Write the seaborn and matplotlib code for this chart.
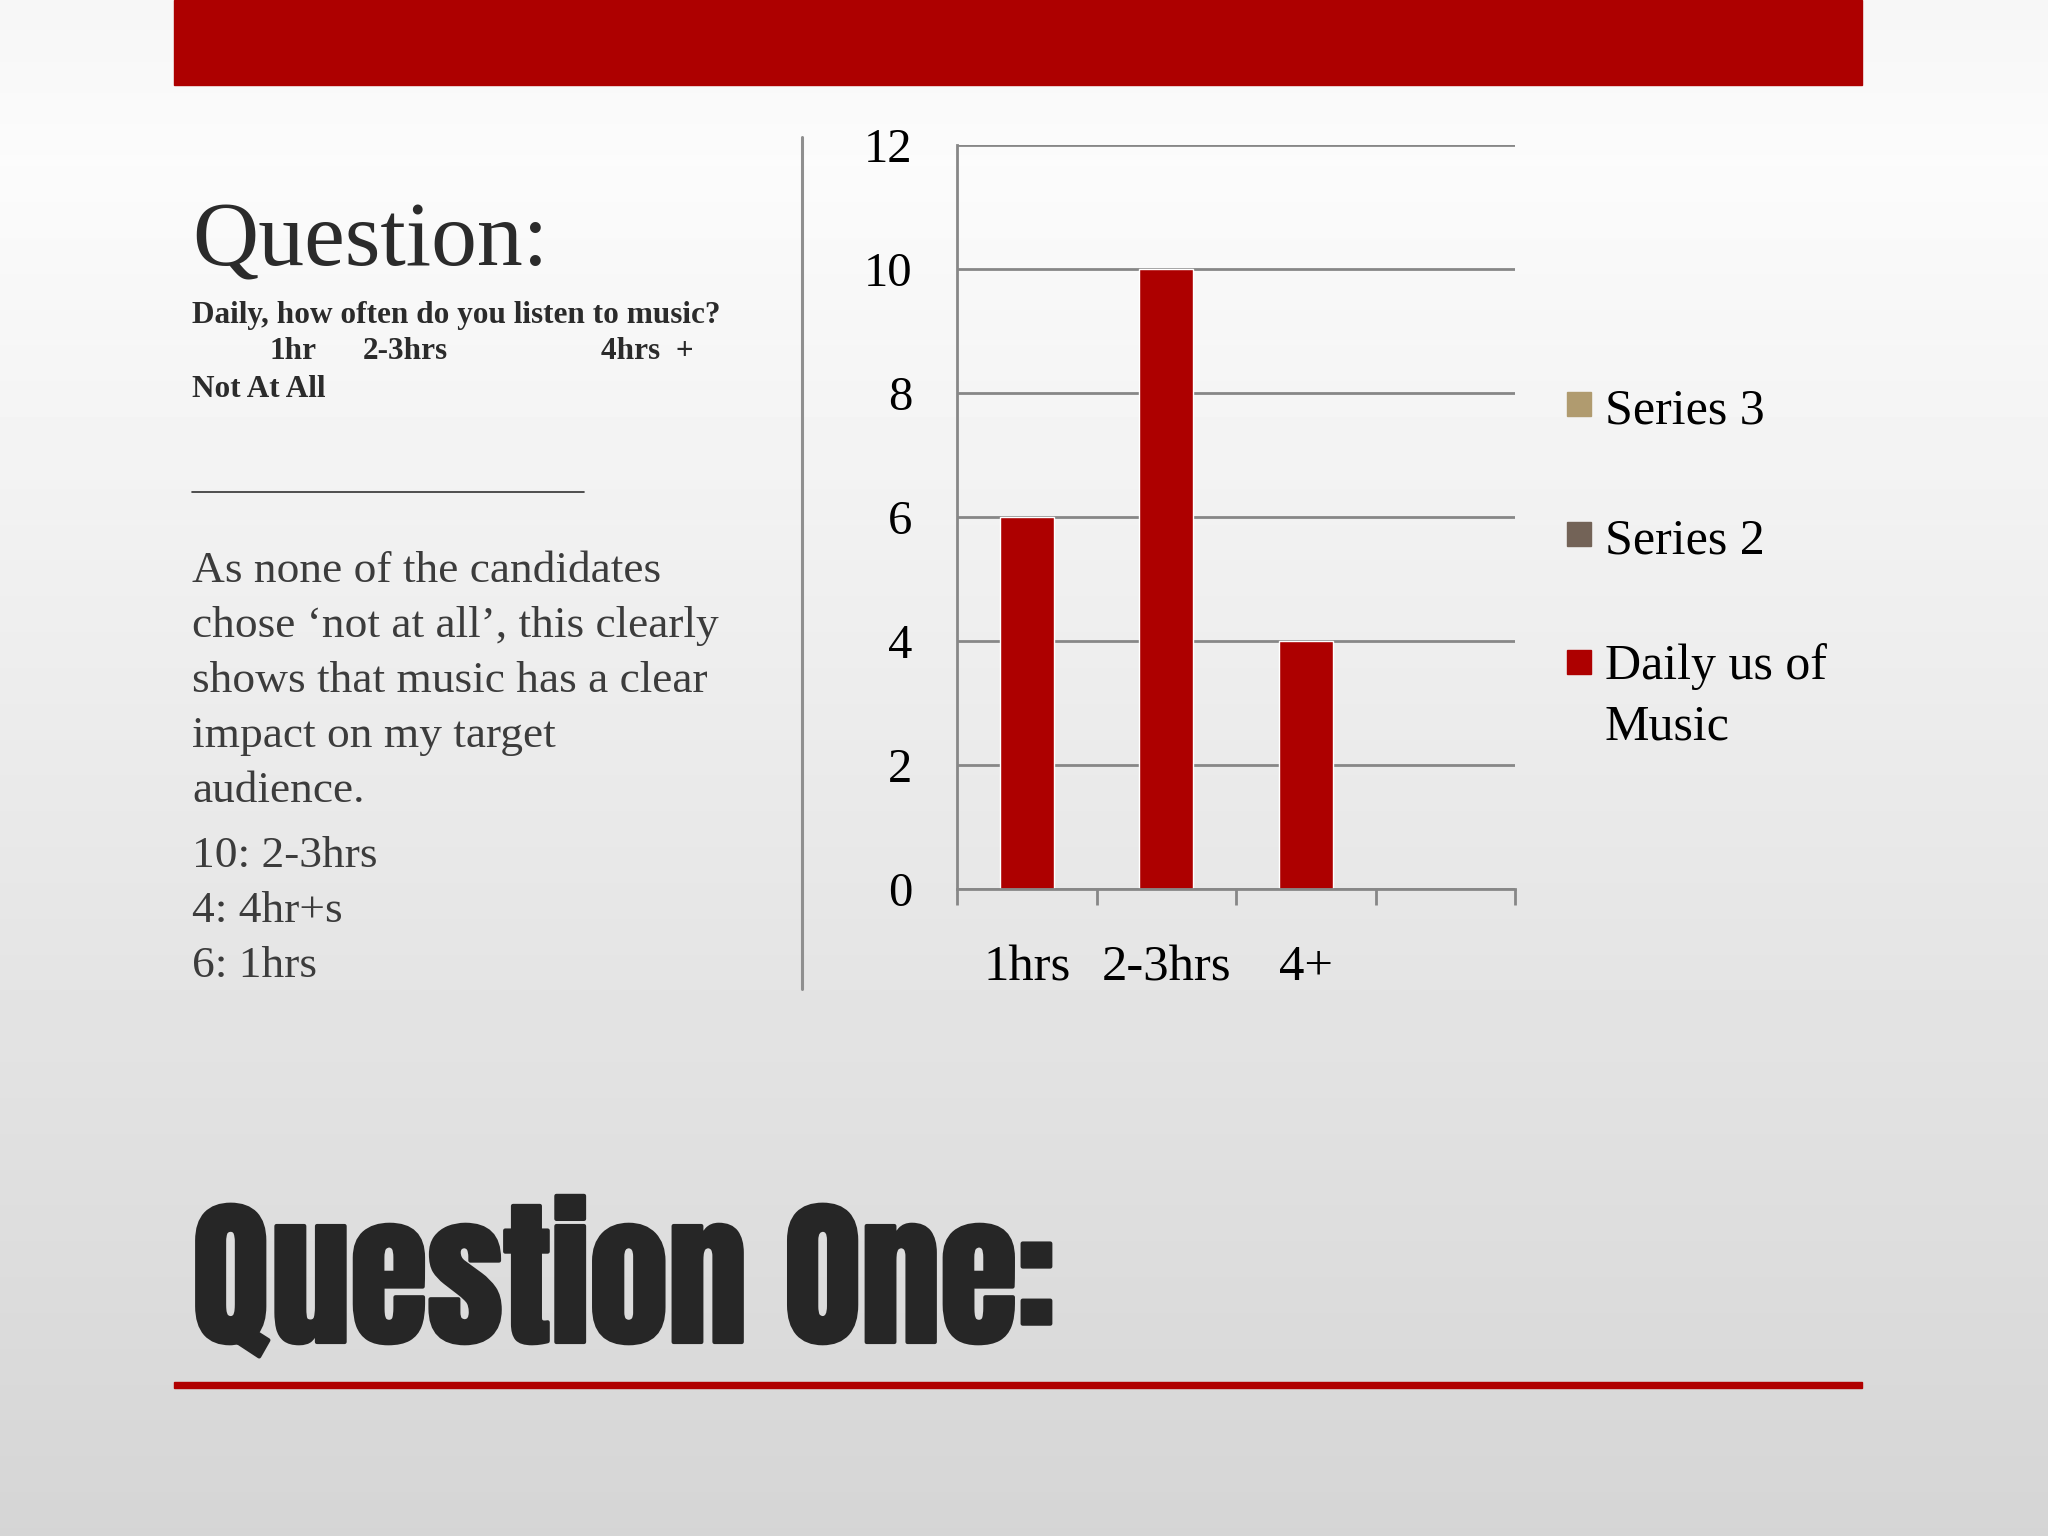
import numpy as np
import pandas as pd
import matplotlib.pyplot as plt
from matplotlib.patches import Rectangle
from matplotlib import patheffects
import seaborn as sns

# data
categories = ["1hrs", "2-3hrs", "4+"]
daily_use = [6, 10, 4]
slot_order = ["1hrs", "2-3hrs", "4+", " "]
y_ticks = [0, 2, 4, 6, 8, 10, 12]
legend_labels = ["Series 3", "Series 2", "Daily us of\nMusic"]
legend_colors = ["#B09B6F", "#736357", "#AD0000"]

RED = "#AD0000"
GRID = "#878787"
W, H = 2048, 1536

sns.set_theme(style="white")
plt.rcParams["font.family"] = ["Liberation Serif", "DejaVu Serif"]

fig = plt.figure(figsize=(W / 100, H / 100), dpi=100)


def fx(x):
    return x / W


def fy(y):
    return 1 - y / H


# background gradient, white at the top fading to light grey
bg = fig.add_axes([0, 0, 1, 1], zorder=-10)
g = np.interp(np.arange(H), [0, 160, H], [0.965, 0.985, 0.835])
bg.imshow(np.repeat(g[:, None], 4, axis=1), cmap="gray", vmin=0, vmax=1,
          aspect="auto", extent=[0, 1, 0, 1])
bg.set_axis_off()

# red header bar and bottom rule
fig.add_artist(Rectangle((fx(174), fy(85)), fx(1862 - 174), 85 / H,
                         color=RED, transform=fig.transFigure))
fig.add_artist(Rectangle((fx(174), fy(1388)), fx(1862 - 174), 6 / H,
                         color="#B00000", transform=fig.transFigure))

# left text column
fig.text(fx(192), fy(265), "Question:", fontsize=66, color="#2b2b2b")
fig.text(fx(192), fy(323), "Daily, how often do you listen to music?",
         fontsize=22.5, weight="bold", color="#2b2b2b")
fig.text(fx(270), fy(359), "1hr", fontsize=22.5, weight="bold", color="#2b2b2b")
fig.text(fx(363), fy(359), "2-3hrs", fontsize=22.5, weight="bold", color="#2b2b2b")
fig.text(fx(601), fy(359), "4hrs  +", fontsize=22.5, weight="bold", color="#2b2b2b")
fig.text(fx(192), fy(397), "Not At All", fontsize=22.5, weight="bold", color="#2b2b2b")
fig.add_artist(plt.Line2D([fx(192), fx(584)], [fy(492), fy(492)],
                          color="#333333", lw=1.2))

para = ["As none of the candidates", "chose \u2018not at all\u2019, this clearly",
        "shows that music has a clear", "impact on my target", "audience."]
for i, line in enumerate(para):
    fig.text(fx(192), fy(582 + 55 * i), line, fontsize=32.7, color="#3c3c3c")
for i, line in enumerate(["10: 2-3hrs", "4: 4hr+s", "6: 1hrs"]):
    fig.text(fx(192), fy(867 + 55 * i), line, fontsize=32.7, color="#3c3c3c")

# vertical separator
fig.add_artist(plt.Line2D([fx(802), fx(802)], [fy(137), fy(989)],
                          color="#8f8f8f", lw=2.2))

# chart
ax = fig.add_axes([fx(957), fy(889), fx(1515 - 957), (889 - 145) / H])
ax.set_facecolor("none")
df = pd.DataFrame({"Hours": categories, "Count": daily_use})
sns.barplot(data=df, x="Hours", y="Count", order=slot_order, color=RED,
            saturation=1, width=0.39, ax=ax, zorder=3)
ax.set_xlim(-0.5, 3.5)
ax.set_ylim(0, 12)
ax.set_yticks(y_ticks)
ax.set_xlabel("")
ax.set_ylabel("")
ax.yaxis.grid(True, color=GRID, lw=2)
ax.set_axisbelow(True)
for s in ["top", "right"]:
    ax.spines[s].set_visible(False)
for s in ["left", "bottom"]:
    ax.spines[s].set_color(GRID)
    ax.spines[s].set_linewidth(2)
    ax.spines[s].set_zorder(4)

ax.set_xticks(np.arange(-0.5, 4, 1))
ax.set_xticklabels([])
ax.set_xticks(range(len(slot_order)), minor=True)
ax.set_xticklabels(slot_order, minor=True)
ax.tick_params(axis="x", which="major", length=11.5, width=2, color=GRID,
               direction="out", bottom=True)
ax.tick_params(axis="x", which="minor", length=0, pad=40, labelsize=36.5,
               labelcolor="black")
ax.tick_params(axis="y", length=0, pad=32, labelsize=35, labelcolor="black")

# legend drawn beside the plot area
leg_y = [424, 554, 682]
for lab, col, yb in zip(legend_labels, legend_colors, leg_y):
    nl = lab.count("\n")
    fig.add_artist(Rectangle((fx(1567), fy(yb - 8)), fx(24), 24 / H,
                             color=col, transform=fig.transFigure))
    fig.text(fx(1605), fy(yb + 58 * nl), lab, fontsize=36, color="black",
             va="baseline", linespacing=1.4)

# slide title
fig.text(fx(193), fy(1342), "Question One:", fontsize=114,
         family=["Anton", "Oswald", "League Gothic", "DejaVu Sans"],
         color="#262626",
         path_effects=[patheffects.withStroke(linewidth=3, foreground="#262626")])

fig.savefig("out.png", dpi=100)
